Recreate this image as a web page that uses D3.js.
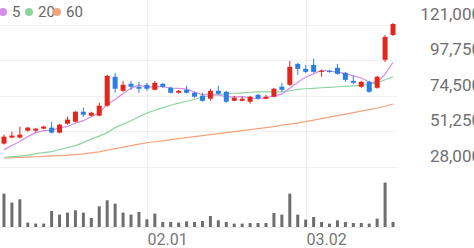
<!DOCTYPE html>
<html>
<head>
<meta charset="utf-8">
<script src="https://cdn.jsdelivr.net/npm/d3@7"></script>
<style>
  html, body { margin: 0; padding: 0; background: #fff; overflow: hidden; }
  svg { display: block; font-family: Roboto, "Noto Sans", sans-serif; }
</style>
</head>
<body>
<div id="chart"></div>
<script>
const dates = ["01.04","01.05","01.06","01.09","01.10","01.11","01.12","01.13","01.16","01.17",
  "01.18","01.19","01.20","01.25","01.26","01.27","01.30","01.31","02.01","02.02",
  "02.03","02.06","02.07","02.08","02.09","02.10","02.13","02.14","02.15","02.16",
  "02.17","02.20","02.21","02.22","02.23","02.24","02.27","02.28","03.02","03.03",
  "03.06","03.07","03.08","03.09","03.10","03.13","03.14","03.15","03.16","03.17"];

const open = [43050,47000,47000,51550,51550,52900,53550,50250,56150,57450,
  64000,61400,61400,67950,86950,77750,82350,80400,81700,78400,
  82350,79750,76450,78400,76450,74500,72550,77750,77100,71200,
  71200,70550,75150,72550,73850,80400,81700,95450,92200,94800,
  90200,90850,92850,89550,84300,80400,83650,79750,98100,114450];
const high = [48950,50900,54200,54000,53200,54800,57450,56000,60750,64500,
  66650,64000,69900,88250,89550,84300,84300,83650,83000,84300,
  83000,80400,78400,81050,77100,76450,79100,81050,77750,74500,
  73850,74500,75800,75150,79700,83000,97400,96100,94800,98750,
  91500,91500,95450,90200,87600,84300,84300,87600,114450,122300];
const low = [42400,46500,46500,51000,50250,52500,49800,49800,55500,57000,
  60750,61000,61000,67300,76450,77100,78400,76450,77750,78000,
  79700,76000,76000,76000,73200,70550,71200,75150,70000,70900,
  70900,69250,72000,72200,73500,77100,81000,88250,89600,89600,
  86950,89600,88250,83650,82350,79700,76450,79100,96750,113800];
const close = [47650,48300,48950,53550,52900,54200,50250,55500,58800,64000,
  62050,63350,67950,87600,79100,81700,80400,79100,79100,83000,
  80400,76450,77750,76450,73850,71200,77750,75800,70550,73200,
  72550,73850,72550,73850,79100,78400,93500,92200,90200,90200,
  90850,90200,88900,84950,83000,83650,77100,86950,113150,121650];
const volume = [3340,2440,2770,440,340,340,1600,1240,1440,1670,
  1440,900,2070,2670,2340,1440,1240,1500,770,1340,
  500,500,440,570,500,600,1100,670,500,340,
  340,400,400,400,1400,1240,3340,1240,740,1000,
  500,340,670,500,400,400,340,840,4440,500];

const ma5 = [39100,41750,44400,47650,50270,51580,51970,53280,54330,56550,
  58120,60740,63230,68990,72010,75940,79350,81580,79880,80660,
  80400,79610,79340,78810,76980,75140,75400,75010,73830,73700,
  73970,73190,72540,73200,74380,75550,79480,83410,86680,88900,
  91390,90730,90070,89020,87580,86140,83520,83130,88770,96500];
const ma20 = [33900,34550,34850,35500,36500,37150,37800,39150,40450,41750,
  43700,46000,47950,50250,53550,55850,58100,60750,63050,65000,
  66650,68250,69600,70900,72200,73500,74500,75150,75800,76150,
  76450,76800,77100,77100,77100,77100,77750,78750,79100,79400,
  79750,80050,80400,80700,81050,81350,82050,83000,85000,86950];
const ma60 = [33550,33750,34000,34200,34400,34650,34950,35200,35500,35850,
  36300,36950,37600,38800,39800,40750,41750,42750,43600,44250,
  44900,45700,46350,47000,47650,48300,48950,49600,50250,50900,
  51550,52250,52900,53550,54200,55150,55850,56500,57450,58450,
  59450,60400,61400,62400,63350,64350,65350,66450,67600,69050];

const yTicks = [28000, 51250, 74500, 97750, 121000];
const xTicks = ["02.01", "03.02"];
const maNames = ["5", "20", "60"];
const maColors = ["#d48ce6", "#8fd4a0", "#f2a47e"];

const W = 474, H = 248;
const plotW = 397;
const upColor = "#e3261b", downColor = "#2a7fe6";

const svg = d3.select("#chart").append("svg")
  .attr("width", W).attr("height", H);

const x = d3.scaleBand().domain(dates).range([0, plotW]);
const cx = d => x(d) + x.bandwidth() / 2;
const y = d3.scaleLinear().domain([28000, 121000]).range([166.5, 25]);
const yv = d3.scaleLinear().domain([0, 4500]).range([227, 182]);

// grid
svg.append("g").selectAll("line")
  .data(yTicks).enter().append("line")
  .attr("x1", 0).attr("x2", plotW)
  .attr("y1", d => Math.round(y(d)) + 0.5).attr("y2", d => Math.round(y(d)) + 0.5)
  .attr("stroke", "#f0f0f0");
svg.append("line")
  .attr("x1", 0).attr("x2", plotW)
  .attr("y1", 227.5).attr("y2", 227.5)
  .attr("stroke", "#eeeeee");
svg.append("g").selectAll("line")
  .data(xTicks).enter().append("line")
  .attr("x1", d => Math.round(cx(d)) + 0.5).attr("x2", d => Math.round(cx(d)) + 0.5)
  .attr("y1", 0).attr("y2", 228)
  .attr("stroke", "#f0f0f0");

// y labels
svg.append("g").selectAll("text")
  .data(yTicks).enter().append("text")
  .attr("x", 481).attr("y", d => y(d) - 5)
  .attr("text-anchor", "end")
  .attr("font-size", 17).attr("fill", "#707070")
  .text(d => d3.format(",")(d));

// x labels
svg.append("g").selectAll("text")
  .data(xTicks).enter().append("text")
  .attr("x", d => Math.round(cx(d)) + 0.5).attr("y", 245)
  .attr("font-size", 16).attr("fill", "#777")
  .text(d => d);

// moving averages
[ma60, ma20, ma5].forEach((s, k) => {
  const line = d3.line().x((v, i) => cx(dates[i])).y(v => y(v));
  svg.append("path").datum(s)
    .attr("fill", "none")
    .attr("stroke", maColors[2 - k])
    .attr("stroke-width", 1.2)
    .attr("d", line);
});

// candles
const idx = d3.range(dates.length);
const col = i => close[i] >= open[i] ? upColor : downColor;
const candle = svg.append("g").selectAll("g")
  .data(idx).enter().append("g");
candle.append("line")
  .attr("x1", i => cx(dates[i])).attr("x2", i => cx(dates[i]))
  .attr("y1", i => y(high[i])).attr("y2", i => y(low[i]))
  .attr("stroke", col).attr("stroke-width", 1);
candle.append("rect")
  .attr("x", i => cx(dates[i]) - 2.5).attr("width", 5)
  .attr("y", i => y(Math.max(open[i], close[i])))
  .attr("height", i => Math.max(1, Math.abs(y(open[i]) - y(close[i]))))
  .attr("fill", col);

// volume
svg.append("g").selectAll("rect")
  .data(idx).enter().append("rect")
  .attr("x", i => cx(dates[i]) - 1.5).attr("width", 3)
  .attr("y", i => yv(volume[i]))
  .attr("height", i => 227 - yv(volume[i]))
  .attr("fill", "#6e6e6e");

// legend
const leg = svg.append("g");
const legX = [3, 29, 57];
maNames.forEach((n, k) => {
  leg.append("circle").attr("cx", legX[k]).attr("cy", 12).attr("r", 4).attr("fill", maColors[k]);
  leg.append("text").attr("x", legX[k] + 9).attr("y", 17)
    .attr("font-size", 15).attr("fill", "#666").text(n);
});
</script>
</body>
</html>
